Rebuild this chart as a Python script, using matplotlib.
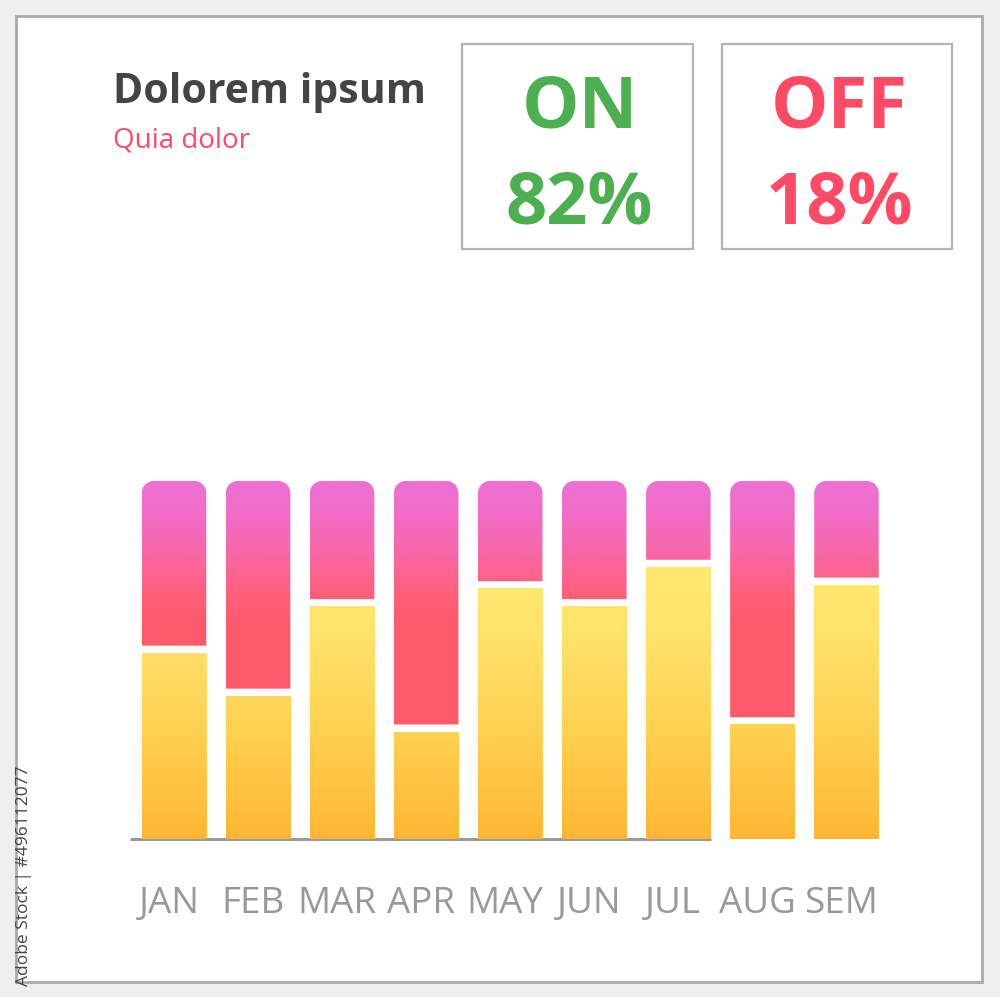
import numpy as np
import matplotlib.pyplot as plt
from matplotlib.patches import Rectangle, PathPatch
from matplotlib.path import Path
from matplotlib.colors import LinearSegmentedColormap, Normalize

# data
months = ["JAN", "FEB", "MAR", "APR", "MAY", "JUN", "JUL", "AUG", "SEM"]
on_pct = [53, 41, 66, 31, 71, 66, 77, 33, 72]
off_pct = [100 - v for v in on_pct]
on_total = 82
off_total = 18

W, H = 1000, 997
BG = "#efefef"
GREEN = "#4caf50"
RED = "#ff4a66"
GRAY_TXT = "#999999"
FONT = "Open Sans"

def fx(px):
    return px / W

def fy(py):
    return 1 - py / H

fig = plt.figure(figsize=(W / 100, H / 100), dpi=100, facecolor=BG)

# white panel with grey frame
fig.patches.append(Rectangle((fx(16), fy(982)), fx(966), 966 / H, transform=fig.transFigure,
                             facecolor="white", edgecolor="#aaaaaa", lw=2.0, zorder=-5))

# header
fig.text(fx(113), fy(103), "Dolorem ipsum", fontsize=29.5, fontweight="bold",
         color="#444444", family=FONT)
fig.text(fx(113), fy(147), "Quia dolor", fontsize=20, color=RED, family=FONT)

# ON / OFF boxes
for x0, x1, word, pct, col in [(462, 693, "ON", on_total, GREEN),
                               (722, 952, "OFF", off_total, RED)]:
    fig.patches.append(Rectangle((fx(x0), fy(249)), fx(x1 - x0), 205 / H, transform=fig.transFigure,
                                 facecolor="none", edgecolor="#b3b3b3", lw=1.6, zorder=-4))
    cx = fx((x0 + x1) / 2 + 2)
    fig.text(cx, fy(127), word, fontsize=52, fontweight="bold", color=col,
             ha="center", family=FONT)
    fig.text(cx, fy(224), f"{pct}%", fontsize=52, fontweight="bold", color=col,
             ha="center", family=FONT)

# stock id on the left edge
fig.text(fx(24), fy(765), "Adobe Stock | #496112077", rotation=90, fontsize=12.5,
         color="#444444", ha="center", va="top", family=FONT)

# bar axes: y 0..100 -> pixel 839..481, bar step 84 px starting at 174 px
step = 84.06
left_px, right_px = 130, 900
ax = fig.add_axes([fx(left_px), fy(839), fx(right_px - left_px), 358 / H])
ax.axis("off")
ax.patch.set_alpha(0)

pink_cmap = LinearSegmentedColormap.from_list(
    "pink", [(0.0, "#ff5a6a"), (0.60, "#ff5a6a"), (0.68, "#ff5f78"),
             (0.80, "#f867a8"), (0.90, "#f16cc6"), (1.0, "#ee70d6")])
yellow_cmap = LinearSegmentedColormap.from_list(
    "yellow", [(0.0, "#ffb733"), (0.30, "#ffd151"), (0.58, "#ffe36a"),
               (0.75, "#ffe86e"), (1.0, "#ffe86e")])
norm = Normalize(0, 100)
grad = np.linspace(0, 100, 400).reshape(-1, 1)

bw = 64.5 / step
gap = 1.0
rx, ry = 12 / step, 12 / 3.58
k = 0.5523


def rounded_top(x0, x1, y0, y1):
    verts = [(x0, y0), (x0, y1 - ry),
             (x0, y1 - ry + k * ry), (x0 + rx - k * rx, y1), (x0 + rx, y1),
             (x1 - rx, y1),
             (x1 - rx + k * rx, y1), (x1, y1 - ry + k * ry), (x1, y1 - ry),
             (x1, y0), (x0, y0)]
    codes = [Path.MOVETO, Path.LINETO,
             Path.CURVE4, Path.CURVE4, Path.CURVE4,
             Path.LINETO,
             Path.CURVE4, Path.CURVE4, Path.CURVE4,
             Path.LINETO, Path.CLOSEPOLY]
    return Path(verts, codes)


for i, (on, off) in enumerate(zip(on_pct, off_pct)):
    x0, x1 = i - bw / 2, i + bw / 2
    # ON part (yellow)
    im = ax.imshow(grad, cmap=yellow_cmap, norm=norm, origin="lower", aspect="auto",
                   extent=[x0, x1, 0, 100], interpolation="bilinear", zorder=2)
    im.set_clip_path(Rectangle((x0, 0), bw, on - gap, transform=ax.transData))
    # OFF part (pink), rounded top corners
    im = ax.imshow(grad, cmap=pink_cmap, norm=norm, origin="lower", aspect="auto",
                   extent=[x0, x1, 0, 100], interpolation="bilinear", zorder=2)
    clip = PathPatch(rounded_top(x0, x1, on + gap, on + off), transform=ax.transData)
    im.set_clip_path(clip)

ax.set_xlim((left_px - 174) / step, (right_px - 174) / step)
ax.set_ylim(0, 100)

# baseline under the first seven bars
ax.plot([ax.get_xlim()[0], 6 + bw / 2], [0, 0], color="#9a9a9a", lw=2.2,
        zorder=1, solid_capstyle="butt", clip_on=False)

for i, m in enumerate(months):
    ax.text(i - 0.06, -20.8, m, ha="center", va="baseline", fontsize=26.5,
            color=GRAY_TXT, family=FONT)

fig.savefig("out.png", dpi=100, facecolor=BG)
